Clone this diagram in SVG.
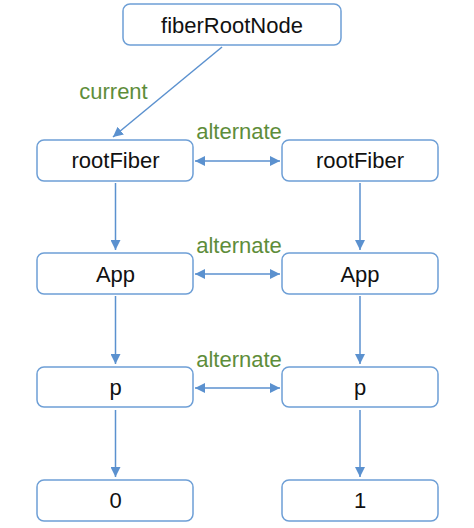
<svg xmlns="http://www.w3.org/2000/svg" width="474" height="528" viewBox="0 0 474 528">
<style>
.box{fill:#fff;stroke:#6e9fd6;stroke-width:1.5}
.t{font-family:"Liberation Sans",Arial,sans-serif;font-size:22px;fill:#111;text-anchor:middle}
.lbl{font-family:"Liberation Sans",Arial,sans-serif;font-size:22px;fill:#5e8d3a;text-anchor:middle}
.c{stroke:#5b91cf;stroke-width:1.5;fill:none}
</style>
<defs>
<marker id="ah" viewBox="0 0 10 10" refX="10" refY="5" markerWidth="10" markerHeight="10" markerUnits="userSpaceOnUse" orient="auto-start-reverse">
<path d="M0,0 L10,5 L0,10 z" fill="#5b91cf"/>
</marker>
</defs>
<rect width="474" height="528" fill="#fff"/>
<g id="connectors">
<line class="c" x1="222" y1="47" x2="113" y2="137" marker-end="url(#ah)"/>
<line class="c" x1="195" y1="161" x2="280" y2="161" marker-start="url(#ah)" marker-end="url(#ah)"/>
<line class="c" x1="195" y1="274" x2="280" y2="274" marker-start="url(#ah)" marker-end="url(#ah)"/>
<line class="c" x1="195" y1="388" x2="280" y2="388" marker-start="url(#ah)" marker-end="url(#ah)"/>
<line class="c" x1="115.5" y1="183" x2="115.5" y2="250" marker-end="url(#ah)"/>
<line class="c" x1="360" y1="183" x2="360" y2="250" marker-end="url(#ah)"/>
<line class="c" x1="115.5" y1="296" x2="115.5" y2="364" marker-end="url(#ah)"/>
<line class="c" x1="360" y1="296" x2="360" y2="364" marker-end="url(#ah)"/>
<line class="c" x1="115.5" y1="410" x2="115.5" y2="477" marker-end="url(#ah)"/>
<line class="c" x1="360" y1="410" x2="360" y2="477" marker-end="url(#ah)"/>
<text class="lbl" x="113.5" y="99">current</text>
<text class="lbl" x="239" y="139">alternate</text>
<text class="lbl" x="239" y="253">alternate</text>
<text class="lbl" x="239" y="367">alternate</text>
</g>
<g id="fiberRootNode"><rect class="box" x="123" y="4" width="218" height="41" rx="7"/><text class="t" x="232" y="33">fiberRootNode</text></g>
<g id="rootFiberL"><rect class="box" x="37" y="140" width="156" height="41" rx="7"/><text class="t" x="115.5" y="168">rootFiber</text></g>
<g id="rootFiberR"><rect class="box" x="282" y="140" width="156" height="41" rx="7"/><text class="t" x="360" y="168">rootFiber</text></g>
<g id="AppL"><rect class="box" x="37" y="253" width="156" height="41" rx="7"/><text class="t" x="115.5" y="282">App</text></g>
<g id="AppR"><rect class="box" x="282" y="253" width="156" height="41" rx="7"/><text class="t" x="360" y="282">App</text></g>
<g id="pL"><rect class="box" x="37" y="367" width="156" height="40" rx="7"/><text class="t" x="115.5" y="395">p</text></g>
<g id="pR"><rect class="box" x="282" y="367" width="156" height="40" rx="7"/><text class="t" x="360" y="395">p</text></g>
<g id="zero"><rect class="box" x="37" y="480" width="156" height="41" rx="7"/><text class="t" x="115.5" y="508">0</text></g>
<g id="one"><rect class="box" x="282" y="480" width="156" height="41" rx="7"/><text class="t" x="360" y="508">1</text></g>
</svg>
